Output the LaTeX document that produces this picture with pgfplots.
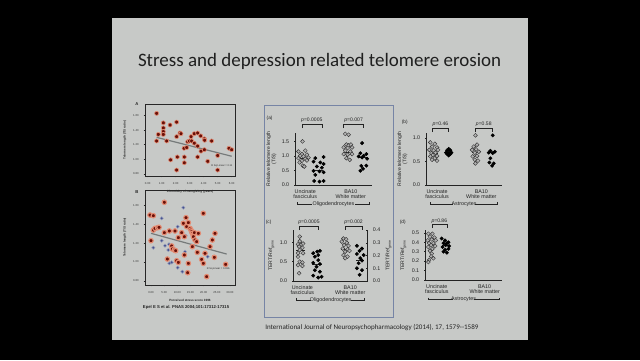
\documentclass[border=0pt]{standalone}
\usepackage{pgfplots}
\pgfplotsset{compat=1.18}
\usepackage{fontspec}
\setmainfont{Liberation Sans}
\newfontfamily\carlito{Carlito}
\definecolor{slide}{RGB}{199,201,199}
\definecolor{dred}{RGB}{105,16,8}
\definecolor{halo}{RGB}{228,140,115}
\definecolor{bdot}{RGB}{70,82,140}
\definecolor{frameblue}{RGB}{118,132,165}
\definecolor{ink}{RGB}{35,35,35}
\definecolor{regline}{RGB}{118,122,122}

\pgfplotsset{
 dotplot/.style={scale only axis, anchor=south west, axis lines=left, axis line style={-,ink,line width=0.4pt}, clip=false,
   x tick style={draw=none}, xticklabel style={align=center, font=\fontsize{3.8}{3.3}\selectfont, color=ink, yshift=0.8pt},
   yticklabel style={font=\fontsize{3.8}{4}\selectfont, color=ink, /pgf/number format/.cd, fixed, fixed zerofill, precision=1},
   y tick style={ink, line width=0.3pt}, major tick length=1.2pt,
   ylabel style={font=\fontsize{3.6}{3.6}\selectfont, align=center, color=ink},
   /pgf/number format/assume math mode=true},
 gmark/.style={only marks, mark=*, mark size=1.4pt, mark options={fill=gray!60, draw=gray!40!black, line width=0.3pt}},
 kmark/.style={only marks, mark=*, mark size=1.15pt, mark options={fill=black, draw=black}},
 med/.style={ink, line width=0.4pt, mark=none},
 scat/.style={scale only axis, anchor=south west, axis line style={gray!30!black, line width=0.35pt},
   tick align=outside, xtick pos=bottom, ytick pos=left, major tick length=1pt, tick style={gray!30!black, line width=0.25pt},
   ticklabel style={font=\fontsize{2}{2.2}\selectfont, color=gray!40!black, /pgf/number format/.cd, fixed, fixed zerofill, precision=2},
   label style={font=\fontsize{2.2}{2.4}\selectfont\bfseries, color=gray!30!black},
   /pgf/number format/assume math mode=true},
 redA/.style={only marks, mark=*, mark size=1.45pt, mark options={fill=dred, draw=halo, line width=0.45pt}},
 redB/.style={only marks, mark=*, mark size=1.6pt, mark options={fill=dred, draw=halo, line width=0.8pt}},
 blueB/.style={only marks, mark=*, mark size=1.2pt, mark options={fill=bdot, draw=bdot!55!white, line width=0.3pt}},
}
\newcommand{\pval}[1]{\fontsize{3.6}{4}\selectfont\textit{p}=#1}

\begin{document}
\begin{tikzpicture}
\fill[black] (0,0) rectangle (160mm,90mm);
\fill[slide] (28mm,5mm) rectangle (132mm,85.5mm);
\draw[frameblue, line width=0.5pt] (66mm,10.75mm) rectangle (98.25mm,63.75mm);
\node[font=\carlito\fontsize{13.5}{15}\selectfont, text=black!88] at (79.9mm,74.6mm) {Stress and depression related telomere erosion};
\node[anchor=west, font=\fontsize{3}{3.4}\selectfont\bfseries, text=ink] at (34.5mm,13.25mm) {Epel E S et al. PNAS 2004;101:17312-17315};
\node[anchor=west, font=\carlito\fontsize{5}{6}\selectfont, text=ink, inner sep=0pt] at (66.25mm,8mm) {International Journal of Neuropsychopharmacology (2014), 17, 1579--1589};

% ---------------- Plot A ----------------
\begin{axis}[scat, at={(36.25mm,46mm)}, width=22.5mm, height=18mm,
  xmin=-0.19, xmax=6.24, ymin=0.768, ymax=1.759,
  xtick={0,1,2,3,4,5,6}, ytick={0.8,1.0,1.2,1.4,1.6},
  xlabel={Chronicity of caregiving (years)}, ylabel={Telomere length (T/S ratio)},
  xlabel style={yshift=2.5pt}, ylabel style={yshift=-2pt}, clip=false]
\addplot[regline, line width=0.85pt] coordinates {(0.64,1.30) (6.0,1.04)};
\addplot[redA] coordinates {
(0.64,1.63) (0.64,1.25) (0.76,1.34) (1.12,1.50) (1.12,1.43) (1.12,1.38) (1.12,1.34) (1.36,1.25)
(1.60,1.47) (1.64,0.99) (2.07,1.51) (2.07,1.31) (2.12,1.03) (2.07,0.85) (2.31,1.36) (2.38,1.35)
(2.60,1.15) (2.62,1.03) (2.62,0.95) (2.79,1.16) (2.86,1.24) (2.98,1.25) (3.10,1.31) (3.14,1.25)
(3.33,1.35) (3.33,1.22) (3.57,1.36) (3.57,1.18) (3.57,1.03) (3.79,1.32) (3.81,1.11) (4.05,1.28)
(4.05,1.13) (4.07,1.26) (4.29,0.97) (4.57,1.25) (5.00,1.05) (5.00,0.85) (5.81,1.15) (6.00,1.13)};
\node[font=\fontsize{1.8}{2}\selectfont, text=gray!30!black] at (axis cs:5.3,0.91) {R Sq Linear = 0.11};
\node[font=\fontsize{3}{3}\selectfont\bfseries, text=ink] at (rel axis cs:-0.09,1.0) {A};
\end{axis}

% ---------------- Plot B ----------------
\begin{axis}[scat, at={(36.25mm,18.75mm)}, width=22.5mm, height=23.75mm,
  xmin=-2.28, xmax=31.9, ymin=0.754, ymax=1.767,
  xtick={0,5,10,15,20,25,30}, ytick={0.8,1.0,1.2,1.4,1.6},
  xlabel={Perceived stress score 1996}, ylabel={Telomere length (T/S ratio)},
  xlabel style={yshift=2.5pt}, ylabel style={yshift=-2pt}, clip=false]
\addplot[regline, line width=0.85pt] coordinates {(0,1.305) (28.73,1.084)};
\addplot[blueB] coordinates {
(4.05,1.465) (0.89,1.152) (4.05,1.227) (5.32,1.173) (6.84,1.188) (6.58,1.127) (10.13,1.376)
(12.28,1.579) (13.16,1.280) (12.91,1.109) (10.13,0.939) (6.96,0.985) (7.85,0.995) (11.90,0.896) (21.52,1.056)};
\addplot[redB] coordinates {
(5.06,1.636) (-0.38,1.500) (0.89,1.493) (0.89,1.340) (1.52,1.358) (2.53,1.365) (3.04,1.369) (0.00,1.227)
(5.06,1.312) (6.96,1.330) (9.11,1.330) (7.85,1.170) (8.10,1.138) (8.86,1.127) (9.37,1.120) (6.20,1.031)
(9.75,1.013) (10.38,0.995) (10.38,1.259) (11.65,1.312) (12.28,1.412) (12.66,1.269) (12.66,1.074) (13.29,1.472)
(13.54,1.376) (13.92,0.885) (14.18,0.985) (14.18,1.419) (14.81,1.358) (15.19,1.340) (15.44,1.323) (15.70,1.305)
(16.08,1.287) (16.46,1.312) (15.70,1.163) (16.08,1.269) (16.71,1.234) (17.34,1.216) (17.59,1.102) (17.97,1.305)
(19.24,1.027) (19.87,0.985) (19.87,1.518) (20.51,1.092) (21.14,0.843) (22.41,1.163) (23.29,1.234) (24.05,1.049)
(24.30,1.305) (28.35,0.974)};
\node[font=\fontsize{1.8}{2}\selectfont, text=gray!30!black] at (axis cs:25.5,0.93) {R Sq Linear = 0.096};
\node[font=\fontsize{3}{3}\selectfont\bfseries, text=ink] at (rel axis cs:-0.09,0.98) {B};
\end{axis}

% ---------------- Plot (a) ----------------
\begin{axis}[dotplot, at={(73.75mm,43.75mm)}, width=19.25mm, height=13mm,
  xmin=0.5, xmax=5.4, ymin=0, ymax=1.8, ytick={0,0.5,1,1.5},
  xtick={1.15,4.05}, xticklabels={Uncinate\\fasciculus, BA10\\White matter},
  ylabel={Relative telomere length\\(T/S)}, ylabel style={yshift=-3pt}]
\addplot[gmark] coordinates {(0.98,1.51) (0.72,1.16) (1.15,1.19) (0.94,1.07) (1.26,1.05) (0.83,1.01) (1.04,0.99)
 (0.72,0.93) (1.15,0.91) (1.36,0.95) (0.94,0.84) (1.26,0.85) (0.79,0.78) (1.00,0.67) (1.09,0.64)};
\addplot[kmark] coordinates {(1.79,0.93) (2.32,0.97) (1.68,0.81) (2.11,0.78) (2.32,0.73) (1.89,0.64) (2.21,0.60)
 (1.68,0.49) (2.06,0.47) (2.32,0.44) (1.79,0.35) (1.72,0.14) (2.06,0.12) (2.32,0.14)};
\addplot[gmark] coordinates {(3.70,1.77) (3.91,1.74) (3.77,1.40) (3.91,1.37) (4.06,1.40) (3.60,1.30) (3.85,1.28)
 (4.13,1.30) (3.70,1.19) (4.02,1.16) (3.60,1.07) (3.85,1.05) (4.13,1.07) (3.77,0.93) (3.98,0.87)};
\addplot[kmark] coordinates {(4.77,1.45) (4.66,1.10) (5.04,1.07) (4.87,1.01) (4.55,0.99) (4.77,0.95) (5.09,0.91)
 (4.72,0.66) (5.04,0.67) (4.83,0.56) (4.66,0.49)};
\addplot[med] coordinates {(0.7,0.92) (1.35,0.92)};
\addplot[med] coordinates {(1.7,0.50) (2.3,0.50)};
\addplot[med] coordinates {(3.55,1.14) (4.2,1.14)};
\addplot[med] coordinates {(4.6,0.95) (5.15,0.95)};
\draw[ink, line width=0.35pt] (axis cs:0.94,1.97) -- (axis cs:0.94,2.11) -- (axis cs:2.21,2.11) -- (axis cs:2.21,1.97);
\draw[ink, line width=0.35pt] (axis cs:3.6,1.97) -- (axis cs:3.6,2.11) -- (axis cs:4.87,2.11) -- (axis cs:4.87,1.97);
\node[above, inner sep=0.6pt, text=ink] at (axis cs:1.57,2.11) {\pval{0.0005}};
\node[above, inner sep=0.6pt, text=ink] at (axis cs:4.23,2.11) {\pval{0.007}};
\node[font=\fontsize{3.4}{4}\selectfont, text=ink] at (rel axis cs:-0.33,1.29) {(a)};
\draw[ink, line width=0.45pt] (rel axis cs:0.03,-0.33) -- (rel axis cs:0.03,-0.37) -- (rel axis cs:0.22,-0.37);
\draw[ink, line width=0.45pt] (rel axis cs:0.78,-0.37) -- (rel axis cs:0.97,-0.37) -- (rel axis cs:0.97,-0.33);
\node[font=\fontsize{3.8}{4}\selectfont, text=ink] at (rel axis cs:0.5,-0.37) {Oligodendrocytes};
\end{axis}

% ---------------- Plot (c) ----------------
\begin{axis}[dotplot, at={(73.25mm,19.75mm)}, width=18.5mm, height=12.75mm,
  xmin=0.6, xmax=5.0, ymin=0, ymax=1.32, ytick={0,0.5,1},
  xtick={1.16,4.0}, xticklabels={Uncinate\\fasciculus, BA10\\White matter},
  ylabel={TERT/Ref$_{\mathrm{gene}}$}, ylabel style={yshift=-3pt}]
\addplot[gmark] coordinates {(1.0,1.15) (1.0,1.03) (0.9,0.95) (1.1,0.95) (1.2,0.97) (0.96,0.89) (1.16,0.86)
 (1.0,0.80) (0.9,0.72) (1.2,0.72) (0.9,0.63) (1.0,0.50) (1.16,0.48) (0.9,0.41) (1.16,0.39) (0.96,0.20)};
\addplot[kmark] coordinates {(2.04,0.76) (2.2,0.78) (1.8,0.72) (2.1,0.67) (1.9,0.63) (2.1,0.54) (1.8,0.47)
 (2.2,0.44) (2.0,0.37) (1.9,0.28) (2.2,0.24) (1.8,0.14) (2.1,0.09) (2.3,0.11)};
\addplot[gmark] coordinates {(3.6,1.10) (3.76,1.08) (3.5,1.02) (3.8,0.99) (3.64,0.93) (3.9,0.91) (3.56,0.84)
 (3.84,0.82) (3.7,0.76) (3.96,0.78) (3.6,0.67) (3.84,0.63) (3.7,0.59)};
\addplot[kmark] coordinates {(4.4,0.91) (4.7,0.84) (4.56,0.78) (4.4,0.70) (4.8,0.67) (4.6,0.59) (4.7,0.53)
 (4.5,0.46) (4.4,0.33) (4.7,0.28) (4.56,0.16)};
\addplot[med] coordinates {(0.8,0.80) (1.3,0.80)};
\addplot[med] coordinates {(1.75,0.44) (2.3,0.44)};
\addplot[med] coordinates {(3.45,0.82) (4.0,0.82)};
\addplot[med] coordinates {(4.35,0.54) (4.85,0.54)};
\draw[ink, line width=0.35pt] (axis cs:1.0,1.32) -- (axis cs:1.0,1.42) -- (axis cs:2.1,1.42) -- (axis cs:2.1,1.32);
\draw[ink, line width=0.35pt] (axis cs:3.7,1.32) -- (axis cs:3.7,1.42) -- (axis cs:4.7,1.42) -- (axis cs:4.7,1.32);
\node[above, inner sep=0.6pt, text=ink] at (axis cs:1.55,1.42) {\pval{0.0005}};
\node[above, inner sep=0.6pt, text=ink] at (axis cs:4.2,1.42) {\pval{0.002}};
\node[font=\fontsize{3.4}{4}\selectfont, text=ink] at (rel axis cs:-0.33,1.16) {(c)};
\draw[ink, line width=0.45pt] (rel axis cs:0.05,-0.33) -- (rel axis cs:0.05,-0.37) -- (rel axis cs:0.24,-0.37);
\draw[ink, line width=0.45pt] (rel axis cs:0.78,-0.37) -- (rel axis cs:0.97,-0.37) -- (rel axis cs:0.97,-0.33);
\node[font=\fontsize{3.8}{4}\selectfont, text=ink] at (rel axis cs:0.51,-0.37) {Oligodendrocytes};
\end{axis}
\begin{axis}[dotplot, at={(73.25mm,19.75mm)}, width=18.5mm, height=12.75mm,
  axis x line=none, axis y line*=right, xmin=0.6, xmax=5.0, ymin=0, ymax=0.4, ytick={0,0.1,0.2,0.3,0.4},
  ylabel={TERT/Ref$_{\mathrm{gene}}$}, ylabel style={yshift=3pt}]
\addplot[draw=none] coordinates {(1,0)};
\end{axis}

% ---------------- Plot (b) ----------------
\begin{axis}[dotplot, at={(106.5mm,43.75mm)}, width=19mm, height=13mm,
  xmin=0.58, xmax=5.33, ymin=0, ymax=1.11, ytick={0,0.5,1},
  xtick={1.27,4.04}, xticklabels={Uncinate\\fasciculus, BA10\\White matter},
  ylabel={Relative telomere length\\(T/S)}, ylabel style={yshift=-3pt}]
\addplot[gmark] coordinates {(0.85,0.91) (1.13,0.88) (0.96,0.82) (1.27,0.80) (0.79,0.75) (1.06,0.74) (1.33,0.75)
 (0.92,0.68) (1.17,0.69) (1.0,0.64) (1.27,0.62) (0.85,0.61) (1.13,0.57) (0.96,0.54) (1.27,0.52)};
\addplot[kmark] coordinates {(2.0,0.77) (1.9,0.74) (2.1,0.74) (1.83,0.69) (2.0,0.69) (2.17,0.69) (1.9,0.66)
 (2.1,0.66) (2.0,0.63)};
\addplot[gmark] coordinates {(3.67,1.06) (3.56,0.82) (3.77,0.86) (3.46,0.75) (3.71,0.76) (3.63,0.69) (3.88,0.71)
 (3.5,0.61) (3.77,0.62) (3.63,0.54) (3.83,0.52) (3.67,0.46)};
\addplot[kmark] coordinates {(4.75,1.06) (4.6,0.73) (4.88,0.71) (4.5,0.69) (4.75,0.68) (4.6,0.57) (4.54,0.48)
 (4.81,0.46) (4.71,0.41)};
\addplot[med] coordinates {(0.8,0.68) (1.3,0.68)};
\addplot[med] coordinates {(1.8,0.69) (2.25,0.69)};
\addplot[med] coordinates {(3.45,0.69) (3.95,0.69)};
\addplot[med] coordinates {(4.45,0.69) (4.95,0.69)};
\draw[ink, line width=0.35pt] (axis cs:0.96,1.13) -- (axis cs:0.96,1.22) -- (axis cs:2.0,1.22) -- (axis cs:2.0,1.13);
\draw[ink, line width=0.35pt] (axis cs:3.67,1.13) -- (axis cs:3.67,1.22) -- (axis cs:4.71,1.22) -- (axis cs:4.71,1.13);
\node[above, inner sep=0.6pt, text=ink] at (axis cs:1.48,1.22) {\pval{0.46}};
\node[above, inner sep=0.6pt, text=ink] at (axis cs:4.19,1.22) {\pval{0.58}};
\node[font=\fontsize{3.4}{4}\selectfont, text=ink] at (rel axis cs:-0.28,1.21) {(b)};
\draw[ink, line width=0.45pt] (rel axis cs:0.06,-0.33) -- (rel axis cs:0.06,-0.37) -- (rel axis cs:0.36,-0.37);
\draw[ink, line width=0.45pt] (rel axis cs:0.64,-0.37) -- (rel axis cs:0.94,-0.37) -- (rel axis cs:0.94,-0.33);
\node[font=\fontsize{3.8}{4}\selectfont, text=ink] at (rel axis cs:0.5,-0.37) {Astrocytes};
\end{axis}

% ---------------- Plot (d) ----------------
\begin{axis}[dotplot, at={(106.25mm,20mm)}, width=19.25mm, height=12.5mm,
  xmin=0.54, xmax=5.33, ymin=0, ymax=0.53, ytick={0,0.1,0.2,0.3,0.4,0.5},
  xtick={1.27,4.25}, xticklabels={Uncinate\\fasciculus, BA10\\White matter},
  ylabel={TERT/Ref$_{\mathrm{gene}}$}, ylabel style={yshift=-3pt}]
\addplot[gmark] coordinates {(0.75,0.49) (1.0,0.49) (0.85,0.46) (1.13,0.45) (0.71,0.42) (0.96,0.43) (1.21,0.42)
 (0.79,0.39) (1.06,0.39) (0.92,0.37) (1.17,0.36) (0.75,0.35) (1.0,0.33) (0.85,0.31) (0.96,0.28) (0.92,0.25)
 (1.06,0.23) (0.79,0.21) (0.75,0.19)};
\addplot[kmark] coordinates {(1.58,0.44) (1.79,0.42) (2.0,0.40) (1.69,0.39) (1.9,0.39) (1.83,0.37) (2.04,0.36)
 (1.63,0.35) (1.79,0.32) (2.0,0.33) (1.69,0.30) (1.9,0.29)};
\addplot[med] coordinates {(0.7,0.37) (1.25,0.37)};
\addplot[med] coordinates {(1.6,0.37) (2.05,0.37)};
\draw[ink, line width=0.35pt] (axis cs:0.96,0.55) -- (axis cs:0.96,0.59) -- (axis cs:1.9,0.59) -- (axis cs:1.9,0.55);
\node[above, inner sep=0.6pt, text=ink] at (axis cs:1.43,0.59) {\pval{0.86}};
\node[font=\fontsize{3.4}{4}\selectfont, text=ink] at (rel axis cs:-0.29,1.16) {(d)};
\draw[ink, line width=0.45pt] (rel axis cs:0.04,-0.35) -- (rel axis cs:0.04,-0.39) -- (rel axis cs:0.36,-0.39);
\draw[ink, line width=0.45pt] (rel axis cs:0.64,-0.39) -- (rel axis cs:0.97,-0.39) -- (rel axis cs:0.97,-0.35);
\node[font=\fontsize{3.8}{4}\selectfont, text=ink] at (rel axis cs:0.5,-0.39) {Astrocytes};
\end{axis}
\end{tikzpicture}
\end{document}
